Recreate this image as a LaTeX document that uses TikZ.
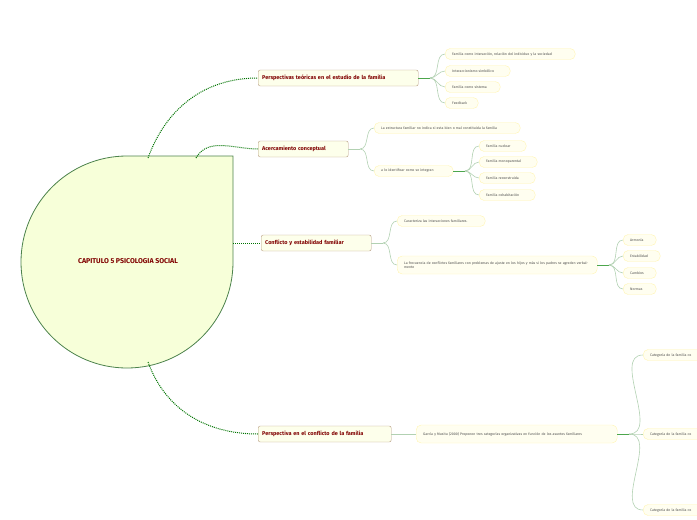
\documentclass[tikz,border=0pt]{standalone}
\usepackage{fontspec}
\setmainfont{Fira Sans}
\begin{document}
\begin{tikzpicture}[x=1pt,y=-1pt,
  main/.style={draw=brown!70!black!60, fill=green!8!yellow!8, rounded corners=2pt, minimum height=16pt, anchor=west, inner xsep=4pt, align=left, font=\fontsize{5.5}{6}\selectfont\bfseries, text=red!50!black},
  leaf/.style={draw=orange!25!yellow!30, fill=yellow!6, rounded corners=5pt, minimum height=11pt, anchor=west, inner xsep=7pt, align=left, font=\fontsize{3.5}{4.2}\selectfont, text=black!70},
  dot/.style={draw=green!45!black, densely dotted, line width=1pt},
  trunk/.style={draw=green!50!black!70, line width=1pt},
  br/.style={draw=green!40!black!30, line width=0.6pt}]
\useasboundingbox (0,0) rectangle (697,520);
\clip (0,0) rectangle (697,520);
\path[draw=green!30!black!70, fill=green!20!yellow!15, line width=0.8pt]
  (127,156) -- (233,156) -- (233,262) arc[start angle=0,end angle=270,radius=106] -- cycle;
\node[font=\fontsize{7}{8}\selectfont\bfseries, text=red!50!black] (c) at (128,261) {CAPITULO 5 PSICOLOGIA SOCIAL};
\node[main, text width=152pt] (m1) at (258,78) {Perspectivas teóricas en el estudio de la familia};
\node[main, text width=82pt] (m2) at (258,149) {Acercamiento conceptual};
\node[main, text width=102pt] (m3) at (261,243) {Conflicto y estabilidad familiar};
\node[main, text width=125pt] (m4) at (258,434) {Perspectiva en el conflicto de la familia};
\coordinate (p1) at (148,158); \coordinate (p2) at (196,158);
\coordinate (p3) at (233,243); \coordinate (p4) at (148,362);
\draw[dot] (p1) to[out=70,in=180] (m1.west);
\draw[dot] (p2) to[out=60,in=180] (m2.west);
\draw[dot] (p3) -- (m3.west);
\draw[dot] (p4) to[out=-70,in=180] (m4.west);
\node[leaf, text width=116pt] (a1) at (445,54) {Familia como interacción, relación del individuo y la sociedad};
\node[leaf, text width=51pt] (a2) at (445,71) {Interaccionismo simbólico};
\node[leaf, text width=41pt] (a3) at (445,87) {Familia como sistema};
\node[leaf, text width=19pt] (a4) at (445,103) {Feedback};
\coordinate (f1) at (430,78);
\draw[trunk] (m1.east) -- (f1);
\foreach \n in {a1,a2,a3,a4} \draw[br] (f1) to[out=0,in=180] (\n.west);
\node[leaf, text width=132pt] (b1) at (374,128) {La estructura familiar no indica si esta bien o mal constituida la familia};
\node[leaf, text width=65pt] (b2) at (374,171) {a lo identificar como se integran};
\coordinate (f2) at (360,149);
\draw[br,line width=0.8pt] (m2.east) -- (f2);
\foreach \n in {b1,b2} \draw[br] (f2) to[out=0,in=180] (\n.west);
\node[leaf, text width=33pt] (b21) at (479,146) {Familia nuclear};
\node[leaf, text width=44pt] (b22) at (479,162) {Familia monoparental};
\node[leaf, text width=42pt] (b23) at (479,178) {Familia reconstruida};
\node[leaf, text width=42pt] (b24) at (479,195) {Familia cohabitación};
\coordinate (f21) at (465,171);
\draw[trunk] (b2.east) -- (f21);
\foreach \n in {b21,b22,b23,b24} \draw[br] (f21) to[out=0,in=180] (\n.west);
\node[leaf, text width=74pt] (c1) at (397,221) {Caracteriza las interacciones familiares.};
\node[leaf, minimum height=18pt, text width=186pt] (c2) at (397,265) {La frecuencia de conflictos familiares con problemas de ajuste en los hijos y más si los padres se agreden verbalmente};
\coordinate (f3) at (383,243);
\draw[br,line width=0.8pt] (m3.east) -- (f3);
\foreach \n in {c1,c2} \draw[br] (f3) to[out=0,in=180] (\n.west);
\node[leaf, text width=19pt] (c21) at (623,240) {Armonía};
\node[leaf, text width=23pt] (c22) at (623,256) {Estabilidad};
\node[leaf, text width=19pt] (c23) at (623,273) {Cambios};
\node[leaf, text width=19pt] (c24) at (623,289) {Normas};
\coordinate (f31) at (609,265);
\draw[trunk] (c2.east) -- (f31);
\foreach \n in {c21,c22,c23,c24} \draw[br] (f31) to[out=0,in=180] (\n.west);
\node[leaf, minimum height=18pt, text width=187pt] (d1) at (416,434) {García y Musitu (2000) Proponen tres categorías organizativas en función de los asuntos familiares};
\draw[br,line width=0.8pt] (m4.east) -- (d1.west);
\node[leaf, text width=76pt] (d11) at (643,355) {Categoría de la familia co};
\node[leaf, text width=76pt] (d12) at (643,434) {Categoría de la familia co};
\node[leaf, text width=76pt] (d13) at (643,510) {Categoría de la familia co};
\coordinate (f4) at (629,434);
\draw[trunk] (d1.east) -- (f4);
\foreach \n in {d11,d12,d13} \draw[br] (f4) to[out=0,in=180] (\n.west);
\end{tikzpicture}
\end{document}
